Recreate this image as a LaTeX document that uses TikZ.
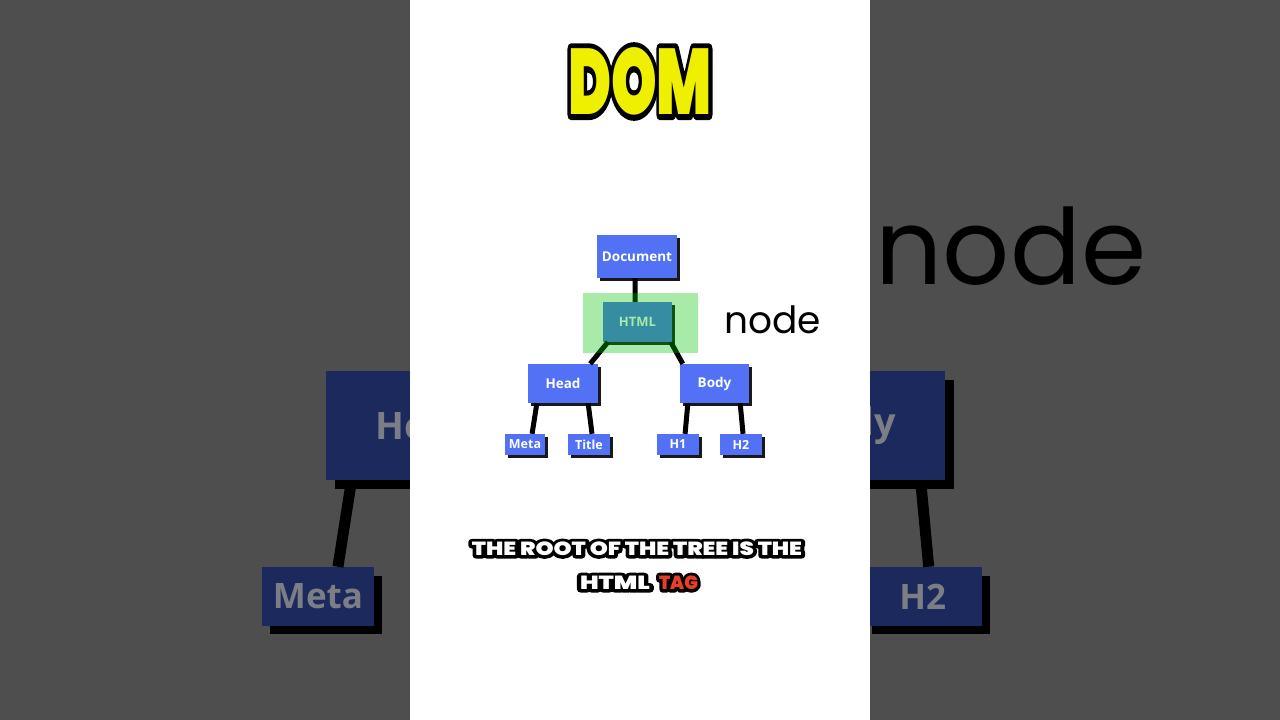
\documentclass[tikz,border=0pt]{standalone}
\usepackage{fontspec}
\usetikzlibrary{calc}
\IfFontExistsTF{Poppins Black}{\newfontfamily\capfont{Poppins Black}}{\newfontfamily\capfont{Poppins}[UprightFont={* Bold}]}
\newfontfamily\boxfont{Open Sans}
\newfontfamily\nodefont{Poppins}
\definecolor{domblue}{RGB}{82,113,245}
\definecolor{bgblue}{RGB}{27,41,92}
\definecolor{bgtext}{RGB}{124,126,134}
\definecolor{bggrey}{RGB}{78,78,78}
\definecolor{domyellow}{RGB}{238,240,0}
\definecolor{tagred}{RGB}{232,62,40}
\definecolor{hlgreen}{RGB}{0,195,0}
% outlined text: a stroked copy below, the filled text on top
\newcommand\outltext[4]{%
  \leavevmode\rlap{\color{#1}\resizebox{#3}{\height}{\special{pdf:literal direct q 1 j 1 J 0 G #2 w 2 Tr}#4\special{pdf:literal direct Q}}}%
  {\color{#1}\resizebox{#3}{\height}{#4}}}
\tikzset{
  dbox/.style={rectangle, fill=boxcol, text=boxtxt, inner sep=0pt},
  conn/.style={draw=linecol, line width=\clw},
}
\newcommand\tbox[7]{%
  \fill[shadcol] ({#2-#4/2+3},{#3-#5/2+3}) rectangle ({#2+#4/2+3},{#3+#5/2+3});
  \node[dbox, minimum width=#4pt, minimum height=#5pt,
        font=\boxfont\bfseries\fontsize{#6pt}{#6pt}\selectfont] (#1) at (#2,#3) {#7};
}
% the parts of the tree that also show, enlarged, beside the panel
\newcommand\domside{%
  \tbox{head}{563}{383.5}{70}{39}{13.5}{Head}
  \tbox{body}{714.5}{383.5}{69}{39}{13.5}{Body}
  \tbox{meta}{525}{444.5}{40}{21}{12.5}{Meta}
  \tbox{htwo}{741}{444.5}{42}{21}{12.5}{H2}
  \draw[conn] ($(head.south west)!0.129!(head.south east)$) -- ($(meta.north west)!0.675!(meta.north east)$);
  \draw[conn] ($(body.south west)!0.87!(body.south east)$) -- ($(htwo.north west)!0.548!(htwo.north east)$);
  \node[font=\nodefont\fontsize{37.5pt}{40pt}\selectfont, text=nodecol, anchor=base west, inner sep=0pt] (nodelbl) at (724,333) {node};
}
% the rest of the tree
\newcommand\domcenter{%
  \tbox{doc}{637}{256.5}{80}{43}{13.5}{Document}
  \tbox{html}{637.5}{322}{69}{40}{13}{HTML}
  \tbox{title}{589}{444.5}{42}{21}{12.5}{Title}
  \tbox{hone}{678}{444.5}{42}{21}{12.5}{H1}
  \draw[conn] ($(doc.south west)!0.475!(doc.south east)$) -- ($(html.north west)!0.465!(html.north east)$);
  \draw[conn] ($(html.south west)!0.072!(html.south east)$) -- ($(head.north west)!0.886!(head.north east)$);
  \draw[conn] ($(html.south west)!0.98!(html.south east)$) -- ($(body.north west)!0.043!(body.north east)$);
  \draw[conn] ($(head.south west)!0.857!(head.south east)$) -- ($(title.north west)!0.571!(title.north east)$);
  \draw[conn] ($(body.south west)!0.116!(body.south east)$) -- ($(hone.north west)!0.667!(hone.north east)$);
}
\begin{document}
\begin{tikzpicture}[x=1pt,y=-1pt]
\useasboundingbox (0,0) rectangle (1280,720);
\clip (0,0) rectangle (1280,720);
\fill[bggrey] (0,0) rectangle (1280,720);
\begin{scope}[scale around={2.8:(640,360)}, transform shape]
  \colorlet{boxcol}{bgblue}\colorlet{boxtxt}{bgtext}\colorlet{shadcol}{black}
  \colorlet{linecol}{black}\colorlet{nodecol}{black}\def\clw{11pt}
  \domside
\end{scope}
\fill[white] (410,0) rectangle (870,720);
\begin{scope}
  \colorlet{boxcol}{domblue}\colorlet{boxtxt}{white}\colorlet{shadcol}{black!90}
  \colorlet{linecol}{black}\colorlet{nodecol}{black}\def\clw{5pt}
  \domside
  \domcenter
  \fill[hlgreen, fill opacity=0.34] (583,293) rectangle (698,353);
\end{scope}
\node[inner sep=0pt] (dom) at (640,81.5)
  {\capfont\fontsize{93pt}{96pt}\selectfont\outltext{domyellow}{11}{144pt}{DOM}};
\node[inner sep=0pt] (cap1) at (637,548.7)
  {\capfont\fontsize{19pt}{20pt}\selectfont\outltext{white}{6.5}{330pt}{THE ROOT OF THE TREE IS THE}};
\node[inner sep=0pt] (cap2) at (639,582.7)
  {\capfont\fontsize{19pt}{20pt}\selectfont\outltext{white}{6.5}{70pt}{HTML}\hspace{9pt}\outltext{tagred}{6.5}{39pt}{TAG}};
\end{tikzpicture}
\end{document}
